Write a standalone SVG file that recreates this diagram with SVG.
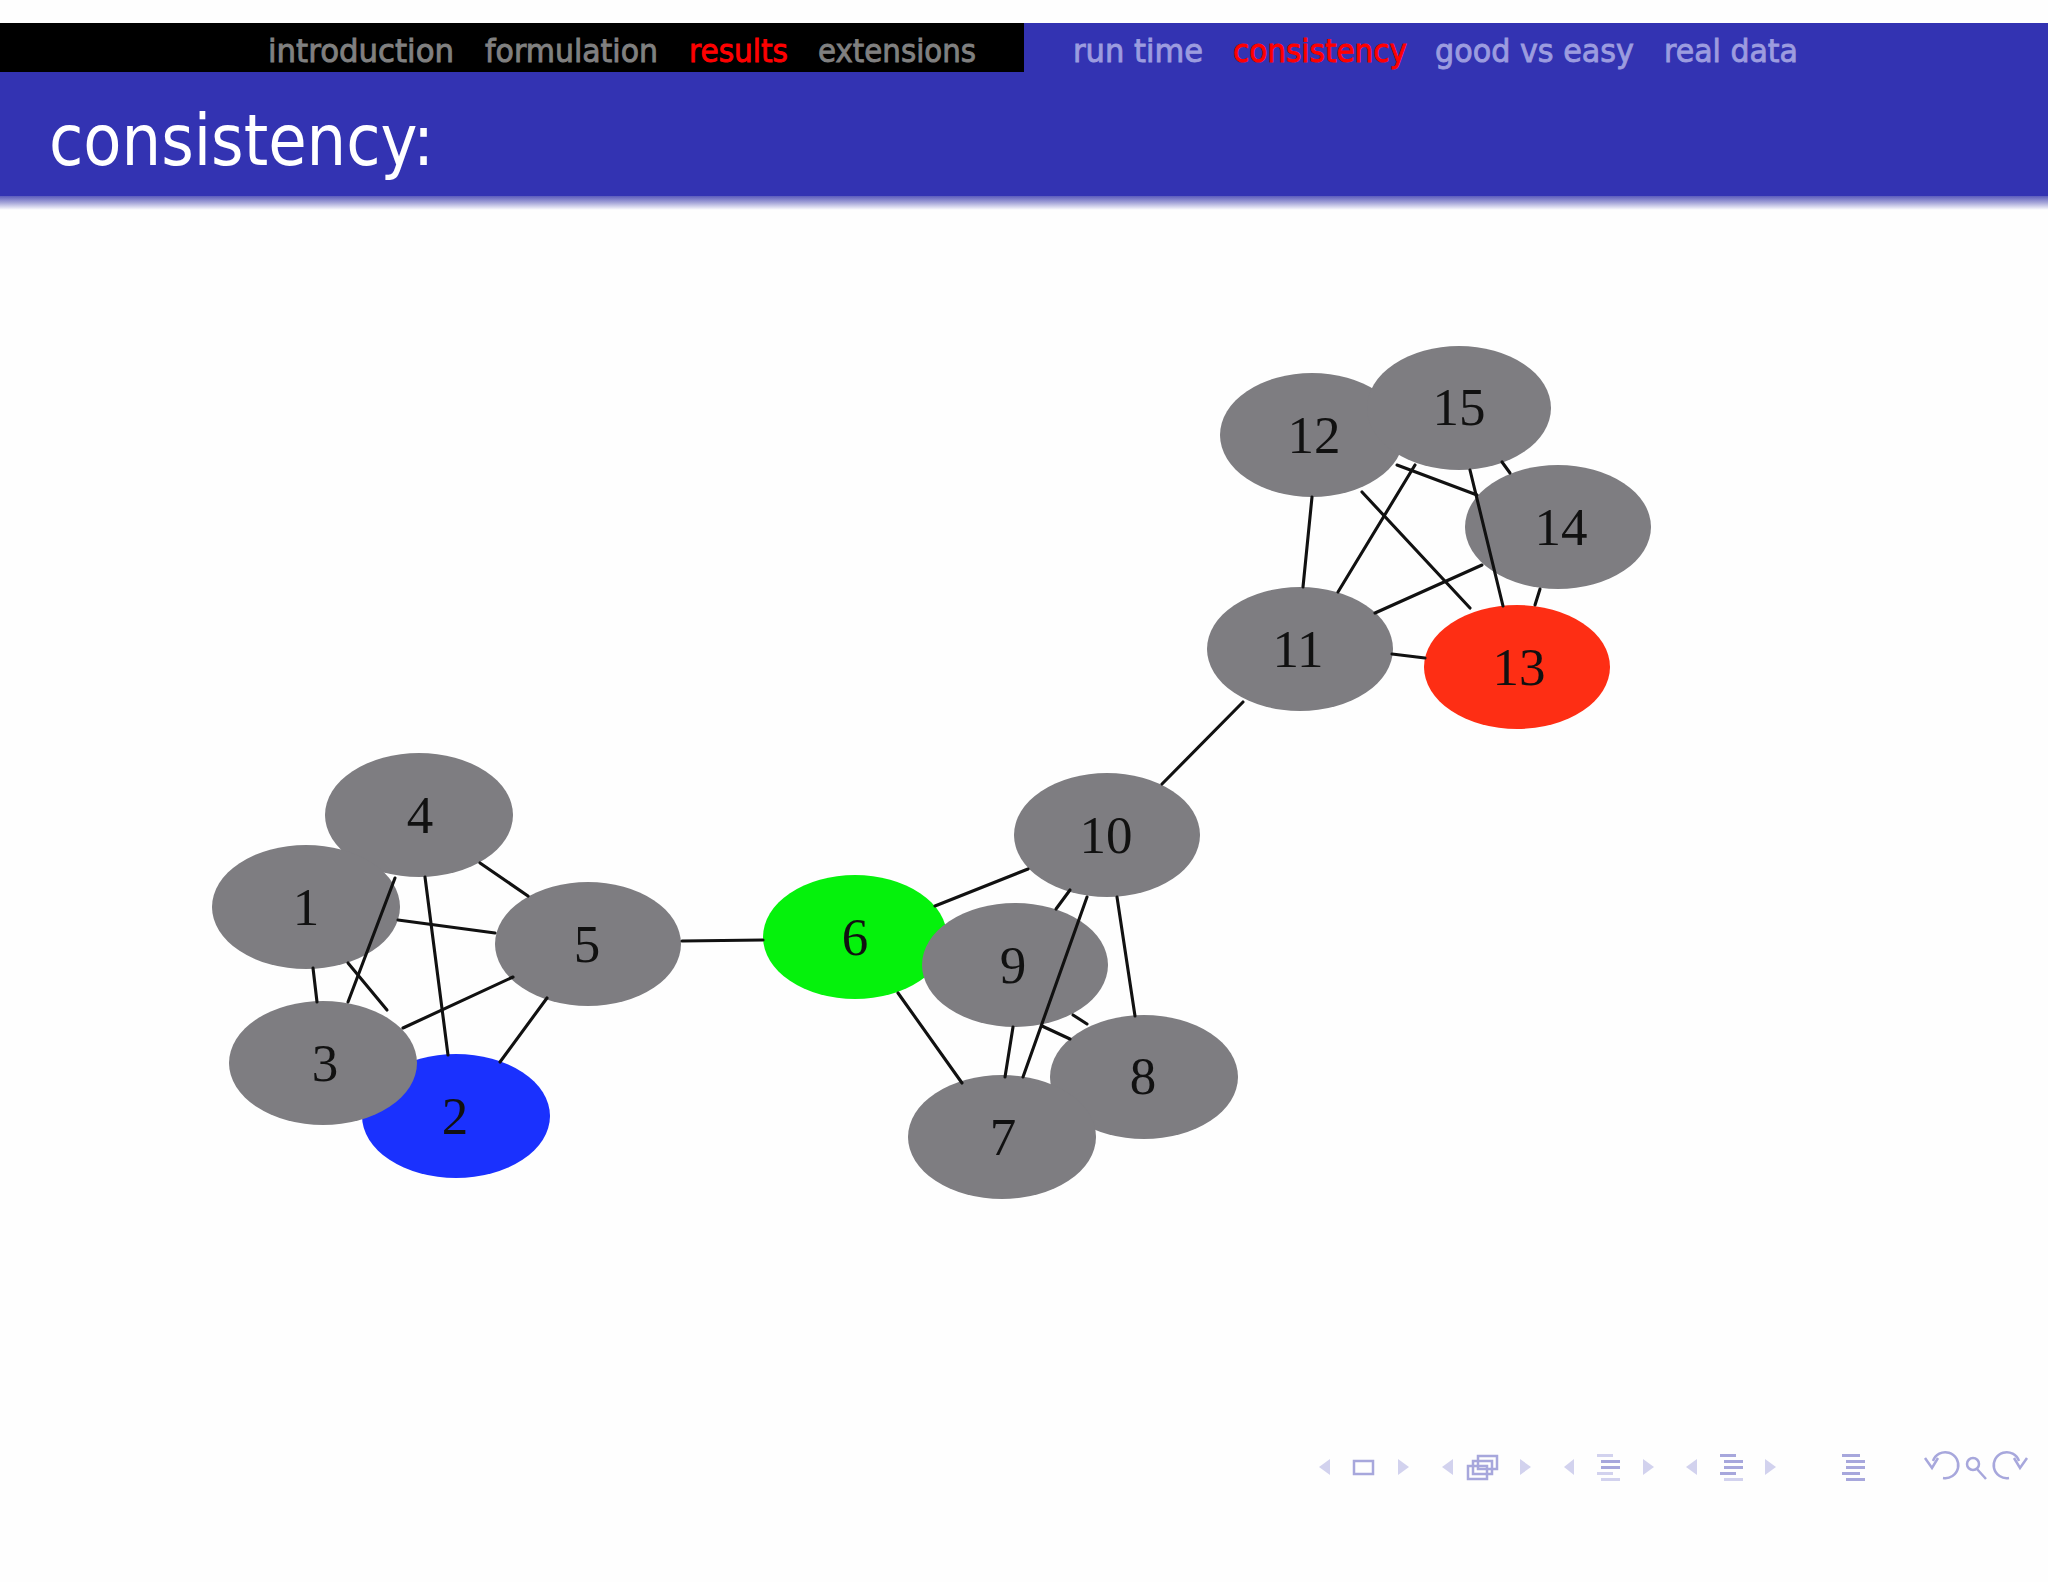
<svg xmlns="http://www.w3.org/2000/svg" width="2048" height="1582" viewBox="0 0 2048 1582">
<defs>
<linearGradient id="shadow" x1="0" y1="0" x2="0" y2="1">
<stop offset="0" stop-color="#5c5cbc"/>
<stop offset="0.5" stop-color="#a9a9da"/>
<stop offset="1" stop-color="#ffffff"/>
</linearGradient>
</defs>
<style>
.nav{font-family:"DejaVu Sans","Liberation Sans",sans-serif;font-size:32px;stroke-width:0.9px}
.navk{fill:#808080;stroke:#808080}
.navb{fill:#9c9cdf;stroke:#9c9cdf}
.act{fill:#ff0000;stroke:#ff0000}
.node{fill:#7e7d81}
.lbl{font-family:"Liberation Serif","DejaVu Serif",serif;font-size:53px;fill:#111;text-anchor:middle}
.edge line{stroke:#111;stroke-width:3.1;stroke-linecap:round}
.tri{fill:#d2d2ee}
.ic{fill:none;stroke:#a7a7dc;stroke-width:2.5}
.bar{fill:#a7a7dc}
.barl{fill:#d2d2ee}
</style>
<rect x="0" y="0" width="2048" height="1582" fill="#fefefe"/>
<!-- header -->
<rect x="0" y="23" width="2048" height="173" fill="#3333b2"/>
<rect x="0" y="23" width="1024" height="49" fill="#000000"/>
<rect x="0" y="196" width="2048" height="14" fill="url(#shadow)"/>
<text class="nav navk" x="268" y="62" textLength="186" lengthAdjust="spacingAndGlyphs">introduction</text>
<text class="nav navk" x="485" y="62" textLength="173" lengthAdjust="spacingAndGlyphs">formulation</text>
<text class="nav act" x="689" y="62" textLength="99" lengthAdjust="spacingAndGlyphs">results</text>
<text class="nav navk" x="818" y="62" textLength="158" lengthAdjust="spacingAndGlyphs">extensions</text>
<text class="nav navb" x="1073" y="62" textLength="130" lengthAdjust="spacingAndGlyphs">run time</text>
<text class="nav act" x="1233" y="62" textLength="174" lengthAdjust="spacingAndGlyphs">consistency</text>
<text class="nav navb" x="1435" y="62" textLength="199" lengthAdjust="spacingAndGlyphs">good vs easy</text>
<text class="nav navb" x="1664" y="62" textLength="134" lengthAdjust="spacingAndGlyphs">real data</text>
<text x="49" y="165" font-family="DejaVu Sans,Liberation Sans,sans-serif" font-size="72" fill="#ffffff" textLength="385" lengthAdjust="spacingAndGlyphs">consistency:</text>
<!-- nodes -->
<g id="node4"><ellipse class="node" cx="419" cy="815" rx="94" ry="62"/><text class="lbl" x="420" y="833">4</text></g>
<g id="node1"><ellipse class="node" cx="306" cy="907" rx="94" ry="62"/><text class="lbl" x="306" y="925">1</text></g>
<g id="node5"><ellipse class="node" cx="588" cy="944" rx="93" ry="62"/><text class="lbl" x="587" y="962">5</text></g>
<g id="node2"><ellipse cx="456" cy="1116" rx="94" ry="62" fill="#1a31fe"/><text class="lbl" x="455" y="1134">2</text></g>
<g id="node3"><ellipse class="node" cx="323" cy="1063" rx="94" ry="62"/><text class="lbl" x="325" y="1081">3</text></g>
<g id="node6"><ellipse cx="855" cy="937" rx="92" ry="62" fill="#05f20c"/><text class="lbl" x="855" y="955">6</text></g>
<g id="node9"><ellipse class="node" cx="1015" cy="965" rx="93" ry="62"/><text class="lbl" x="1013" y="983">9</text></g>
<g id="node10"><ellipse class="node" cx="1107" cy="835" rx="93" ry="62"/><text class="lbl" x="1106" y="853">10</text></g>
<g id="node8"><ellipse class="node" cx="1144" cy="1077" rx="94" ry="62"/><text class="lbl" x="1143" y="1094">8</text></g>
<g id="node7"><ellipse class="node" cx="1002" cy="1137" rx="94" ry="62"/><text class="lbl" x="1003" y="1155">7</text></g>
<g id="node12"><ellipse class="node" cx="1312" cy="435" rx="92" ry="62"/><text class="lbl" x="1314" y="453">12</text></g>
<g id="node15"><ellipse class="node" cx="1459" cy="408" rx="92" ry="62"/><text class="lbl" x="1459" y="425">15</text></g>
<g id="node14"><ellipse class="node" cx="1558" cy="527" rx="93" ry="62"/><text class="lbl" x="1561" y="545">14</text></g>
<g id="node11"><ellipse class="node" cx="1300" cy="649" rx="93" ry="62"/><text class="lbl" x="1298" y="667">11</text></g>
<g id="node13"><ellipse cx="1517" cy="667" rx="93" ry="62" fill="#fe2e14"/><text class="lbl" x="1519" y="685">13</text></g>
<!-- connectors -->
<g id="edges" class="edge">
<line x1="480" y1="863" x2="528" y2="896"/>
<line x1="398" y1="920" x2="495" y2="933"/>
<line x1="395" y1="878" x2="348" y2="1002"/>
<line x1="425" y1="877" x2="448" y2="1055"/>
<line x1="313" y1="968" x2="317" y2="1002"/>
<line x1="348" y1="963" x2="387" y2="1010"/>
<line x1="403" y1="1028" x2="513" y2="977"/>
<line x1="547" y1="998" x2="500" y2="1062"/>
<line x1="682" y1="941" x2="763" y2="940"/>
<line x1="935" y1="906" x2="1028" y2="869"/>
<line x1="898" y1="993" x2="962" y2="1083"/>
<line x1="1042" y1="1026" x2="1070" y2="1039"/>
<line x1="1070" y1="890" x2="1056" y2="909"/>
<line x1="1087" y1="897" x2="1023" y2="1077"/>
<line x1="1117" y1="897" x2="1135" y2="1016"/>
<line x1="1013" y1="1027" x2="1005" y2="1077"/>
<line x1="1073" y1="1015" x2="1087" y2="1024"/>
<line x1="1162" y1="784" x2="1243" y2="702"/>
<line x1="1312" y1="497" x2="1303" y2="587"/>
<line x1="1415" y1="465" x2="1338" y2="592"/>
<line x1="1362" y1="492" x2="1470" y2="608"/>
<line x1="1397" y1="465" x2="1477" y2="495"/>
<line x1="1470" y1="470" x2="1503" y2="606"/>
<line x1="1502" y1="462" x2="1510" y2="473"/>
<line x1="1482" y1="565" x2="1375" y2="613"/>
<line x1="1540" y1="589" x2="1535" y2="605"/>
<line x1="1392" y1="654" x2="1425" y2="658"/>
</g>
<!-- navigation symbols -->
<g id="navsymbols">
<polygon class="tri" points="1330,1459 1319,1467 1330,1475"/>
<rect class="ic" x="1354" y="1461" width="19" height="13"/>
<polygon class="tri" points="1398,1459 1409,1467 1398,1475"/>
<polygon class="tri" points="1453,1459 1442,1467 1453,1475"/>
<rect class="ic" x="1478" y="1456" width="19" height="13"/>
<rect class="ic" x="1473" y="1461" width="19" height="13" fill="#fefefe"/>
<rect class="ic" x="1468" y="1466" width="19" height="13" fill="#fefefe"/>
<polygon class="tri" points="1520,1459 1531,1467 1520,1475"/>
<polygon class="tri" points="1574,1459 1564,1467 1574,1475"/>
<rect class="barl" x="1597" y="1454" width="16" height="3"/>
<rect class="bar" x="1601" y="1460" width="19" height="3"/>
<rect class="bar" x="1601" y="1466" width="19" height="3"/>
<rect class="barl" x="1597" y="1472" width="16" height="3"/>
<rect class="barl" x="1601" y="1478" width="19" height="3"/>
<polygon class="tri" points="1643,1459 1654,1467 1643,1475"/>
<polygon class="tri" points="1697,1459 1686,1467 1697,1475"/>
<rect class="bar" x="1720" y="1454" width="16" height="3"/>
<rect class="bar" x="1724" y="1460" width="19" height="3"/>
<rect class="bar" x="1724" y="1466" width="19" height="3"/>
<rect class="bar" x="1720" y="1472" width="16" height="3"/>
<rect class="barl" x="1724" y="1478" width="19" height="3"/>
<polygon class="tri" points="1765,1459 1776,1467 1765,1475"/>
<rect class="bar" x="1842" y="1454" width="18" height="3"/>
<rect class="bar" x="1846" y="1460" width="19" height="3"/>
<rect class="bar" x="1846" y="1466" width="19" height="3"/>
<rect class="bar" x="1842" y="1472" width="18" height="3"/>
<rect class="bar" x="1846" y="1478" width="19" height="3"/>
<path class="ic" d="M1933,1461 A13,13 0 1 1 1943,1478"/>
<path class="ic" d="M1925,1458 L1932,1468 L1938,1458"/>
<circle class="ic" cx="1973" cy="1464" r="6"/>
<line class="ic" x1="1977" y1="1469" x2="1986" y2="1479"/>
<path class="ic" d="M2019,1461 A13,13 0 1 0 2009,1478"/>
<path class="ic" d="M2027,1458 L2020,1468 L2014,1458"/>
</g>
</svg>
